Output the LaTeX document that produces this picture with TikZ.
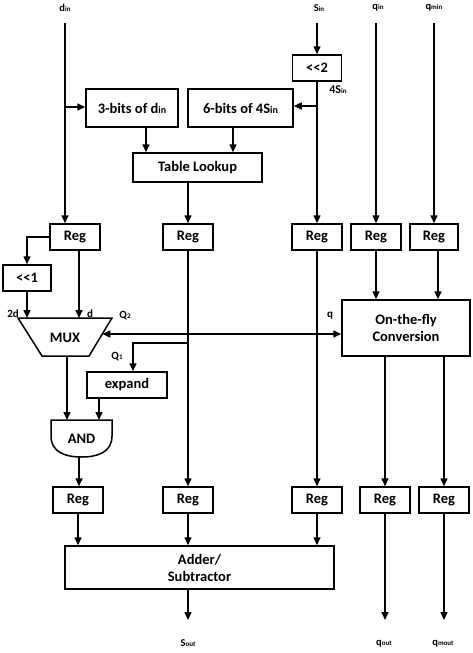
\documentclass[tikz,border=0pt]{standalone}
\usepackage{fontspec}
\setmainfont{Carlito}
\usetikzlibrary{arrows.meta,calc}
\newcommand{\sbb}[1]{{\fontsize{10}{10}\selectfont #1}}
\newcommand{\sbl}[1]{{\fontsize{7}{7}\selectfont #1}}
\begin{document}
\begin{tikzpicture}[x=1pt,y=-1pt,
  box/.style={draw, line width=1.5pt, inner sep=0pt, font=\fontsize{14.5}{17}\selectfont\bfseries, align=center},
  regbox/.style={box, minimum width=50pt, minimum height=26pt},
  lbl/.style={font=\fontsize{11}{12}\selectfont\bfseries, inner sep=0pt},
  toplbl/.style={font=\fontsize{10.5}{11}\selectfont\bfseries, inner sep=0pt},
  wire/.style={line width=1.5pt},
  arr/.style={wire, -{Triangle[length=8pt,width=7pt]}},
  darr/.style={wire, {Triangle[length=8pt,width=7pt]}-{Triangle[length=8pt,width=7pt]}},
]
\useasboundingbox (0,0) rectangle (473,653);

% boxes
\node[box, minimum width=92pt, minimum height=38pt] (bits3) at (132,108) {3-bits of d\sbb{in}};
\node[box, minimum width=105pt, minimum height=38pt] (bits6) at (240.5,108) {6-bits of 4S\sbb{in}};
\node[box, minimum width=49pt, minimum height=26pt] (shl2) at (317,68) {<{}<2};
\node[box, minimum width=129pt, minimum height=29pt] (table) at (197.5,167.5) {Table Lookup};
\node[regbox] (regD) at (75,237) {Reg};
\node[regbox] (regT) at (188,237) {Reg};
\node[regbox] (regS) at (317,237) {Reg};
\node[regbox] (regQ) at (376,237) {Reg};
\node[regbox, minimum width=48pt] (regQM) at (434,237) {Reg};
\node[box, minimum width=48pt, minimum height=26pt] (shl1) at (27,278) {<{}<1};
\node[box, minimum width=80pt, minimum height=26pt] (expand) at (127,385) {expand};
\node[box, minimum width=128pt, minimum height=56pt] (otf) at (406,328) {On-the-fly\\Conversion};
\node[regbox] (regA) at (78,500) {Reg};
\node[regbox] (regB) at (188,500) {Reg};
\node[regbox] (regC) at (317,500) {Reg};
\node[regbox] (regD2) at (385,500) {Reg};
\node[regbox] (regE) at (444,500) {Reg};
\node[box, minimum width=269pt, minimum height=43pt] (adder) at (199.5,567.5) {Adder/\\Subtractor};

% MUX
\coordinate (muxTL) at (18,318);
\coordinate (muxTR) at (112,318);
\coordinate (muxBR) at (89,356);
\coordinate (muxBL) at (42,356);
\draw[wire] (muxTL) -- (muxTR) -- (muxBR) -- (muxBL) -- cycle;
\node[box, draw=none] (mux) at (65,338) {MUX};

% AND
\coordinate (andTL) at (51,420);
\draw[wire] (andTL) -- (112,420) -- (112,436) .. controls (112,452) and (98,457) .. (81.5,457) .. controls (65,457) and (51,452) .. (51,436) -- cycle;
\node[box, draw=none] (and) at (81.5,439) {AND};

% labels
\node[toplbl] (dinl) at (65,8) {d\sbl{in}};
\node[toplbl] (sinl) at (319,8) {S\sbl{in}};
\node[toplbl] (qinl) at (378,8) {q\sbl{in}};
\node[toplbl] (qminl) at (434,8) {q\sbl{min}};
\node[lbl, font=\fontsize{12}{12}\selectfont\bfseries] (fsl) at (338,90) {4S\sbl{in}};
\node[lbl] (l2d) at (13,314) {2d};
\node[lbl] (ld) at (90,314) {d};
\node[lbl] (lq2) at (125,316) {Q\sbl{2}};
\node[lbl] (lq) at (330,316) {q};
\node[lbl] (lq1) at (117,357) {Q\sbl{1}};
\node[toplbl] (soutl) at (188,643) {S\sbl{out}};
\node[toplbl] (qoutl) at (384,644) {q\sbl{out}};
\node[toplbl] (qmoutl) at (443,644) {q\sbl{mout}};

% top inputs
\coordinate (dinS) at (65,23);
\draw[arr] (dinS) -- (dinS |- regD.north);
\coordinate (b1) at (65,107);
\draw[arr] (b1) -- (b1 -| bits3.west);
\coordinate (sinS) at (317,23);
\draw[arr] (sinS) -- (sinS |- shl2.north);
\draw[arr] (shl2.south -| sinS) -- (sinS |- regS.north);
\coordinate (b2) at (317,106);
\draw[arr] (b2) -- (b2 -| bits6.east);
\coordinate (qinS) at (376,23);
\draw[arr] (qinS) -- (qinS |- regQ.north);
\coordinate (qminS) at (434,23);
\draw[arr] (qminS) -- (qminS |- regQM.north);

% table
\coordinate (t1) at ([xshift=14pt]bits3.south);
\draw[arr] (t1) -- (t1 |- table.north);
\coordinate (t2) at ([xshift=-7.5pt]bits6.south);
\draw[arr] (t2) -- (t2 |- table.north);
\draw[arr] (table.south -| regT.north) -- (regT.north);

% to OTF
\draw[arr] (regQ.south) -- (regQ.south |- otf.north);
\coordinate (qm1) at ([xshift=4pt]regQM.south);
\draw[arr] (qm1) -- (qm1 |- otf.north);

% d path
\draw[arr] (regD.west) -- (regD.west -| shl1.north) -- (shl1.north);
\draw[arr] (shl1.south) -- (shl1.south |- muxTL);
\coordinate (rd) at ([xshift=4pt]regD.south);
\draw[arr] (rd) -- (rd |- muxTL);

% q line
\coordinate (muxR) at ($(muxTR)!16/38!(muxBR)$);
\draw[darr] (muxR) -- (muxR -| otf.west);
\draw[arr] (regT.south) -- (regB.north);
\coordinate (q1c) at (133,343);
\draw[arr] (regT.south |- q1c) -- (q1c) -- (q1c |- expand.north);

% to AND
\coordinate (mo) at (67,356);
\draw[arr] (mo) -- (mo |- andTL);
\coordinate (eox) at (99,0);
\draw[arr] (expand.south -| eox) -- (eox |- andTL);
\coordinate (ao) at (79,457);
\draw[arr] (ao) -- (ao |- regA.north);

\draw[arr] (regS.south) -- (regC.north);
\draw[arr] (otf.south -| regD2.north) -- (regD2.north);
\draw[arr] (otf.south -| regE.north) -- (regE.north);

% to adder
\draw[arr] (regA.south) -- (regA.south |- adder.north);
\draw[arr] (regB.south) -- (regB.south |- adder.north);
\draw[arr] (regC.south) -- (regC.south |- adder.north);

% outputs
\coordinate (sout) at (188,620);
\draw[arr] (adder.south -| sout) -- (sout);
\coordinate (qo) at (385,620);
\draw[arr] (regD2.south) -- (regD2.south |- qo);
\coordinate (qmo) at (444,620);
\draw[arr] (regE.south) -- (regE.south |- qmo);
\end{tikzpicture}
\end{document}
